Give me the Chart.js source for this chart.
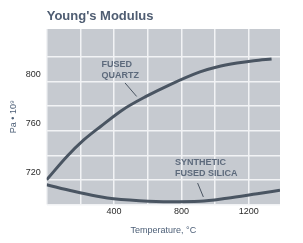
<!DOCTYPE html>
<html lang="en">
<head>
  <meta charset="UTF-8">
  <title>Young's Modulus</title>
  <script src="https://cdn.jsdelivr.net/npm/chart.js"></script>
  <style>
    html, body { margin: 0; padding: 0; background: #fff; }
    #wrap { width: 303px; height: 243px; }
  </style>
</head>
<body>
<div id="wrap">
  <canvas id="modulusChart"></canvas>
</div>

<script>
  // temperature (°C) and modulus (Pa * 10^9)
  const quartzTemp = [0, 120, 220, 320, 450, 590, 730, 910, 1010, 1130, 1230, 1335];
  const quartzVal  = [720, 739, 752.5, 763.5, 777, 788, 797.5, 808, 812, 815.2, 817.1, 818.5];

  const silicaTemp = [0, 160, 300, 360, 550, 730, 910, 1070, 1250, 1385];
  const silicaVal  = [716, 710.6, 706.5, 705.1, 702.9, 702, 702.4, 704.9, 708.6, 711.4];

  // grid and labels
  const xGrid = [0, 200, 400, 600, 800, 1000, 1200];
  const xLabels = [400, 800, 1200];
  const yGrid = [700, 720, 740, 760, 780, 800, 820];
  const yLabels = [720, 760, 800];

  // curve captions: [text lines], anchor (temp, value), leader from/to
  const notes = [
    { lines: ['FUSED', 'QUARTZ'], x: 326, y: 814.4, step: -9.3, lead: [465, 799, 534, 788] },
    { lines: ['SYNTHETIC', 'FUSED SILICA'], x: 762, y: 734.1, step: -9.2, lead: [896, 717.3, 930, 706] }
  ];

  const lineColor = '#4a5562';

  const plotBg = {
    id: 'plotBg',
    beforeDraw(chart) {
      const { ctx, chartArea: a } = chart;
      ctx.save();
      ctx.fillStyle = '#c6cad0';
      ctx.fillRect(a.left, a.top, a.right - a.left, a.bottom - a.top);
      ctx.restore();
    }
  };

  const captions = {
    id: 'captions',
    afterDatasetsDraw(chart) {
      const { ctx, scales: { x, y } } = chart;
      ctx.save();
      ctx.font = 'bold 9px "Liberation Sans", Arial, sans-serif';
      ctx.fillStyle = '#5d6a7c';
      ctx.textBaseline = 'middle';
      ctx.textAlign = 'left';
      notes.forEach(n => {
        n.lines.forEach((t, i) => {
          ctx.fillText(t, x.getPixelForValue(n.x), y.getPixelForValue(n.y + i * n.step));
        });
        ctx.strokeStyle = '#4a5562';
        ctx.lineWidth = 1;
        ctx.beginPath();
        ctx.moveTo(x.getPixelForValue(n.lead[0]), y.getPixelForValue(n.lead[1]));
        ctx.lineTo(x.getPixelForValue(n.lead[2]), y.getPixelForValue(n.lead[3]));
        ctx.stroke();
      });
      ctx.restore();
    }
  };

  const ctx = document.getElementById('modulusChart').getContext('2d');
  new Chart(ctx, {
    type: 'line',
    data: {
      datasets: [
        {
          label: 'Fused Quartz',
          data: quartzTemp.map((t, i) => ({ x: t, y: quartzVal[i] })),
          borderColor: lineColor,
          borderWidth: 3,
          pointRadius: 0,
          cubicInterpolationMode: 'monotone'
        },
        {
          label: 'Synthetic Fused Silica',
          data: silicaTemp.map((t, i) => ({ x: t, y: silicaVal[i] })),
          borderColor: lineColor,
          borderWidth: 3,
          pointRadius: 0,
          cubicInterpolationMode: 'monotone'
        }
      ]
    },
    options: {
      responsive: true,
      maintainAspectRatio: false,
      animation: false,
      layout: { padding: { left: 0, right: 23, top: 0, bottom: 0 } },
      plugins: {
        legend: { display: false },
        tooltip: { enabled: false },
        title: {
          display: true,
          text: "Young's Modulus",
          align: 'start',
          fullSize: false,
          color: '#4f5d72',
          font: { family: '"Liberation Sans", Arial, sans-serif', size: 13, weight: 'bold' },
          padding: { top: 9, bottom: 4.4 }
        }
      },
      scales: {
        x: {
          type: 'linear',
          min: 0,
          max: 1385,
          afterFit: s => { s.height = 38.7; },
          afterBuildTicks: s => { s.ticks = xGrid.map(v => ({ value: v })); },
          border: { display: false },
          grid: { color: '#f2f3f5', lineWidth: 1.5, drawTicks: false },
          ticks: {
            padding: 2,
            color: '#2b2b2b',
            font: { family: '"Liberation Sans", Arial, sans-serif', size: 9 },
            callback: v => xLabels.includes(v) ? String(v) : ''
          },
          title: {
            display: true,
            text: 'Temperature, °C',
            color: '#4e6078',
            font: { family: '"Liberation Sans", Arial, sans-serif', size: 9 },
            padding: { top: 0, bottom: 7 }
          }
        },
        y: {
          type: 'linear',
          min: 700,
          max: 843,
          afterFit: s => { s.width = 46.7; },
          afterBuildTicks: s => { s.ticks = yGrid.map(v => ({ value: v })); },
          border: { display: false },
          grid: { color: '#f2f3f5', lineWidth: 1.5, drawTicks: false },
          ticks: {
            padding: 6,
            labelOffset: -7,
            color: '#2b2b2b',
            font: { family: '"Liberation Sans", Arial, sans-serif', size: 9 },
            callback: v => yLabels.includes(v) ? String(v) : ''
          },
          title: {
            display: true,
            text: 'Pa • 10⁹',
            color: '#4e6078',
            font: { family: '"Liberation Sans", Arial, sans-serif', size: 9 },
            padding: { top: 8.6, bottom: 0 }
          }
        }
      }
    },
    plugins: [plotBg, captions]
  });
</script>
</body>
</html>
